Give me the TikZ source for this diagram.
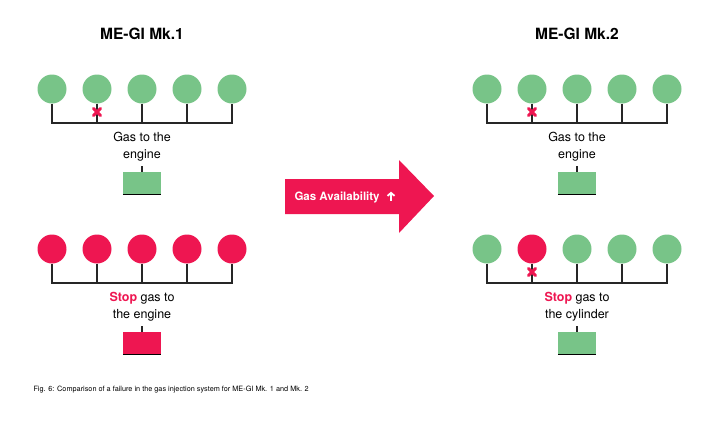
\documentclass[tikz,border=0pt]{standalone}
\usepackage{fontspec}
\setmainfont{TeX Gyre Heros}
\usetikzlibrary{arrows.meta}
\definecolor{gr}{RGB}{120,196,136}
\definecolor{rd}{RGB}{238,22,81}
\tikzset{
 cyl/.style={circle,minimum size=29pt,inner sep=0pt},
 box/.style={minimum width=38pt,minimum height=22pt,inner sep=0pt},
 pipe/.style={line width=1.3pt,black!85},
 lbl/.style={align=center,font=\fontsize{12.5}{17}\selectfont},
 ttl/.style={font=\bfseries\fontsize{15.5}{17}\selectfont},
 xm/.style={line width=3pt,rd,line cap=round}
}
\begin{document}
\begin{tikzpicture}[x=1pt,y=-1pt]
\useasboundingbox (0,0) rectangle (726,424);
\node[ttl] (t1) at (142,34) {ME-GI Mk.1};
\node[ttl] (t2) at (577,34) {ME-GI Mk.2};
\foreach \p/\ox/\oy/\ca/\cb/\bc/\txt in {
 a/0/0/gr/gr/gr/{Gas to the\\engine},
 b/0/160/rd/rd/rd/{\textcolor{rd}{\bfseries Stop} gas to\\the engine},
 c/435/0/gr/gr/gr/{Gas to the\\engine},
 d/435/160/gr/rd/gr/{\textcolor{rd}{\bfseries Stop} gas to\\the cylinder}}{
 \begin{scope}[shift={(\ox,\oy)}]
  \foreach \i/\x in {1/52,3/142,4/187,5/232}
   \node[cyl,fill=\ca] (\p\i) at (\x,89) {};
  \node[cyl,fill=\cb] (\p2) at (97,89) {};
  \coordinate (\p L) at (52,123);
  \coordinate (\p R) at (232,123);
  \draw[pipe] (\p1.south) |- (\p L) -- (\p R) -| (\p5.south);
  \foreach \i in {2,3,4} \draw[pipe] (\p\i.south) -- (\p\i.south |- \p L);
  \node[lbl] (\p t) at (142,147) {\txt};
  \node[box,fill=\bc] (\p b) at (142,183) {};
  \draw[pipe] (\p b.north) -- ++(0,-6);
  \draw[line width=0.8pt] (\p b.south west) -- (\p b.south east);
 \end{scope}}
\foreach \x/\y in {97/112,532/112,532/272}{
 \draw[xm] (\x-3.5,\y-3.5) -- (\x+3.5,\y+3.5) (\x-3.5,\y+3.5) -- (\x+3.5,\y-3.5);}
\fill[rd] (285,179) -- (399,179) -- (399,160) -- (434,196) -- (399,233) -- (399,214) -- (285,214) -- cycle;
\node[text=white,font=\bfseries\fontsize{11.5}{13}\selectfont] (arr) at (345,197) {Gas Availability\,\, \tikz[baseline=0pt]\draw[white,line width=1.8pt,-{Straight Barb[length=3pt,width=7pt]}] (0,0) -- (0,9pt);};
\node[anchor=west,font=\fontsize{7.3}{8}\selectfont] (cap) at (30,390) {Fig. 6: Comparison of a failure in the gas injection system for ME-GI Mk. 1 and Mk. 2};
\end{tikzpicture}
\end{document}
